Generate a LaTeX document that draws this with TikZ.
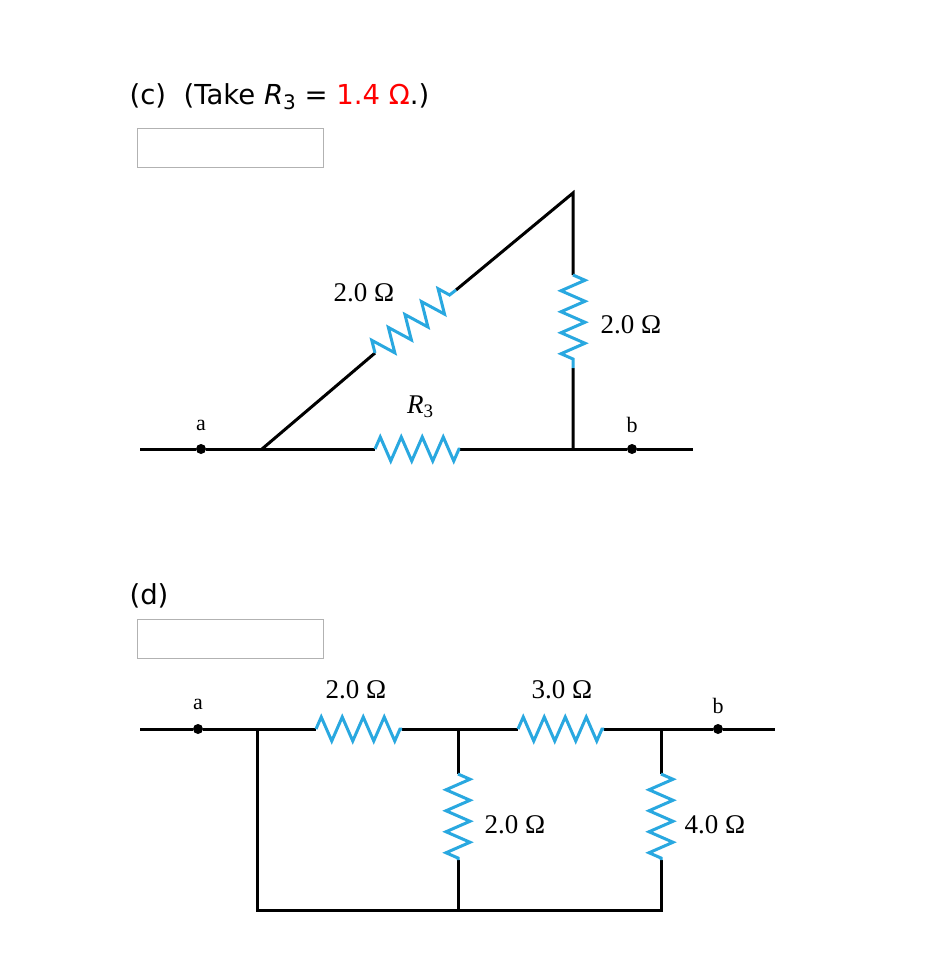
\documentclass[tikz,border=0pt]{standalone}
\usepackage{fontspec}
\setmainfont{Liberation Serif}
\newfontfamily\titlefont{DejaVu Sans}
\usetikzlibrary{decorations.pathmorphing}
\definecolor{resblue}{HTML}{29A8E0}
\definecolor{ansred}{HTML}{FF0000}
\tikzset{
 wire/.style={line width=3pt,black},
 res/.style={line width=3pt,resblue,decorate,decoration={zigzag,segment length=21pt,amplitude=12pt}},
 dotn/.style={circle,fill=black,inner sep=0pt,minimum size=10pt},
 lbl/.style={font=\fontsize{27}{30}\selectfont},
 pt/.style={font=\fontsize{22}{24}\selectfont},
 ttl/.style={font=\titlefont\fontsize{27.5}{30}\selectfont,anchor=west},
 ansbox/.style={draw=black!30,line width=1pt,minimum width=186pt,minimum height=39pt,inner sep=0pt}
}
\begin{document}
\begin{tikzpicture}[x=1pt,y=-1pt]
\path[use as bounding box,fill=white] (0,0) rectangle (926,968);
% (c)
\node[ttl] (tc) at (126,97) {(c)\ \ (Take \textit{R}\raisebox{-0.35ex}{\fontsize{20}{20}\selectfont 3} = \textcolor{ansred}{1.4 Ω}.)};
\node[ansbox] (bc) at (230,148.5) {};
\coordinate (cl) at (140,449); \coordinate (cr) at (693,449);
\node[dotn] (ca) at (201,449) {}; \node[dotn] (cb) at (632,449) {};
\node[pt] (cal) at (201,425) {a}; \node[pt] (cbl) at (632,425) {b};
\coordinate (cj) at (262,449); \coordinate (ct) at (573,193); \coordinate (cbj) at (573,449);
\coordinate (d1) at (375,353); \coordinate (d2) at (456,290);
\coordinate (h1) at (375,449); \coordinate (h2) at (460,449);
\coordinate (v1) at (573,275); \coordinate (v2) at (573,368);
\draw[wire] (cl) -- (ca) -- (cj) -- (h1) (h2) -- (cbj) -- (cb) -- (cr);
\draw[wire] (cj) -- (d1) (d2) -- (ct) -- (v1) (v2) -- (cbj);
\draw[res] (d1) -- (d2); \draw[res] (h1) -- (h2); \draw[res] (v1) -- (v2);
\node[lbl] (l1) at (364,293) {2.0 Ω};
\node[lbl] (l2) at (631,325) {2.0 Ω};
\node[lbl] (l3) at (420,407) {\textit{R}\raisebox{-0.35ex}{\fontsize{19}{19}\selectfont 3}};
% (d)
\node[ttl] (td) at (126,596) {(d)};
\node[ansbox] (bd) at (230,639) {};
\coordinate (dl) at (140,729); \coordinate (dr) at (775,729);
\node[dotn] (da) at (198,729) {}; \node[dotn] (db) at (718,729) {};
\node[pt] (dal) at (198,704) {a}; \node[pt] (dbl) at (718,706) {b};
\coordinate (j1) at (257,729); \coordinate (j2) at (458,729); \coordinate (j3) at (661,729);
\coordinate (b1) at (257,910); \coordinate (b2) at (458,910); \coordinate (b3) at (661,910);
\coordinate (r1a) at (316,729); \coordinate (r1b) at (402,729);
\coordinate (r2a) at (518,729); \coordinate (r2b) at (604,729);
\coordinate (r3a) at (458,774); \coordinate (r3b) at (458,860);
\coordinate (r4a) at (661,774); \coordinate (r4b) at (661,860);
\draw[wire] (dl) -- (da) -- (j1) -- (r1a) (r1b) -- (j2) -- (r2a) (r2b) -- (j3) -- (db) -- (dr);
\draw[wire] (j1) -- (b1) -- (b2) -- (b3) -- (r4b) (r4a) -- (j3);
\draw[wire] (j2) -- (r3a) (r3b) -- (b2);
\draw[res] (r1a) -- (r1b); \draw[res] (r2a) -- (r2b); \draw[res] (r3a) -- (r3b); \draw[res] (r4a) -- (r4b);
\node[lbl] (m1) at (356,690) {2.0 Ω};
\node[lbl] (m2) at (562,690) {3.0 Ω};
\node[lbl] (m3) at (515,825) {2.0 Ω};
\node[lbl] (m4) at (715,825) {4.0 Ω};
\end{tikzpicture}
\end{document}
